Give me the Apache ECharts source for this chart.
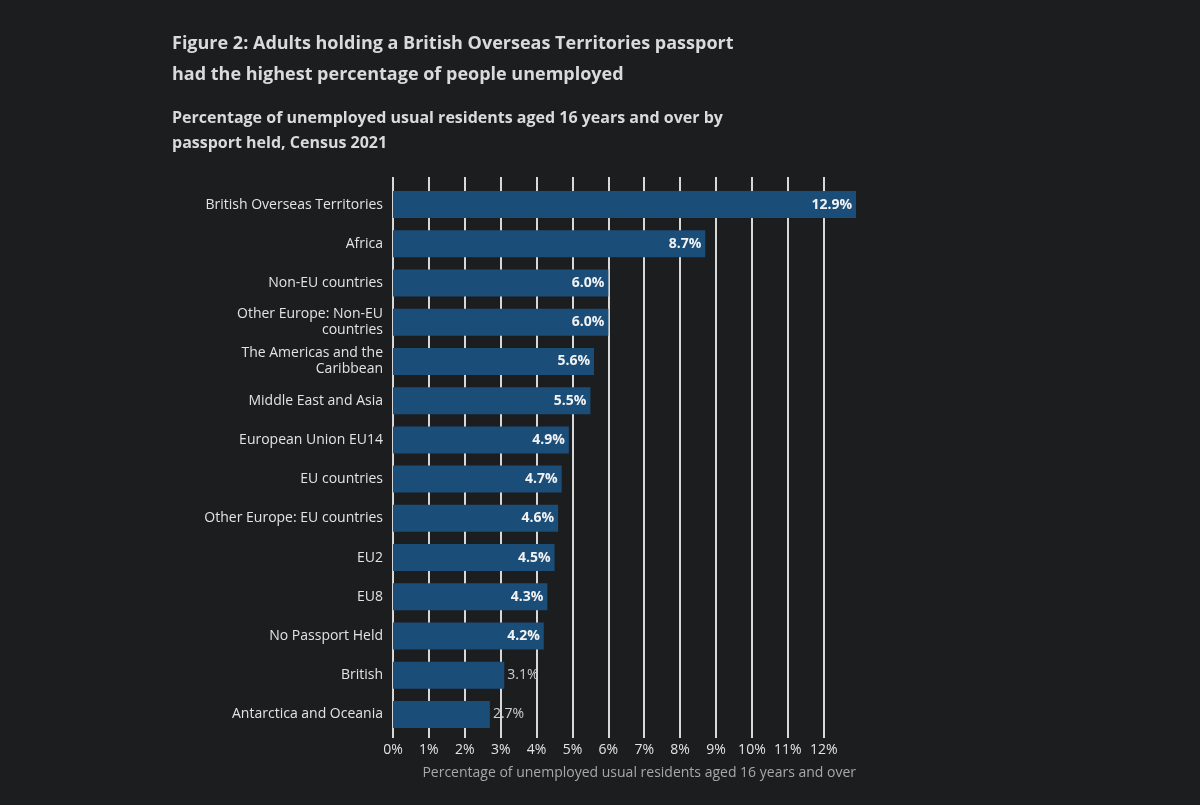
<!DOCTYPE html>
<html>
<head>
<meta charset="utf-8">
<script src="https://cdn.jsdelivr.net/npm/echarts@6/dist/echarts.min.js"></script>
<style>
  html, body { margin: 0; padding: 0; background: #1c1d1f; }
  #main { width: 1200px; height: 805px; }
</style>
</head>
<body>
<div id="main"></div>
<script>
// passport held (top to bottom)
var categories = [
    'British Overseas Territories',
    'Africa',
    'Non-EU countries',
    'Other Europe: Non-EU\ncountries',
    'The Americas and the\nCaribbean',
    'Middle East and Asia',
    'European Union EU14',
    'EU countries',
    'Other Europe: EU countries',
    'EU2',
    'EU8',
    'No Passport Held',
    'British',
    'Antarctica and Oceania'
];
// % unemployed
var values = [12.9, 8.7, 6.0, 6.0, 5.6, 5.5, 4.9, 4.7, 4.6, 4.5, 4.3, 4.2, 3.1, 2.7];
var xTicks = [0, 1, 2, 3, 4, 5, 6, 7, 8, 9, 10, 11, 12];

var textColor = '#e3e3e3';
var barColor = '#1b4d79';
var lineCol = '#d8d8d8';
var fontFam = '"Open Sans", "Noto Sans", sans-serif';

// grid line colours, last tick (max) is hidden
var lineColors = xTicks.map(function(){ return lineCol; });
lineColors.push('rgba(0,0,0,0)');

var seriesData = values.map(function(v){
    var inside = v > 4;
    return {
        value: v,
        label: {
            position: inside ? 'insideRight' : 'right',
            distance: inside ? 4 : 3,
            color: inside ? '#f2f2f2' : '#cfcfcf',
            fontWeight: inside ? 'bold' : 'normal'
        }
    };
});

var chart = echarts.init(document.getElementById('main'));
var option = {
    backgroundColor: '#1c1d1f',
    textStyle: { fontFamily: fontFam },
    title: [
        {
            text: 'Figure 2: Adults holding a British Overseas Territories passport\nhad the highest percentage of people unemployed',
            left: 172, top: 28, padding: 0,
            textStyle: { color: '#dadada', fontSize: 18, fontWeight: 'bold', lineHeight: 31, fontFamily: fontFam }
        },
        {
            text: 'Percentage of unemployed usual residents aged 16 years and over by\npassport held, Census 2021',
            left: 172, top: 106, padding: 0,
            textStyle: { color: '#dadada', fontSize: 16, fontWeight: 'bold', lineHeight: 25, fontFamily: fontFam }
        }
    ],
    grid: { left: 393, right: 1200 - 856, top: 185, bottom: 805 - 734, containLabel: false },
    xAxis: [
        {
            type: 'value',
            min: 0,
            max: 12.9,
            interval: 1,
            axisLine: { show: false },
            axisTick: { show: true, customValues: xTicks, length: 4, lineStyle: { color: lineCol, width: 2 } },
            splitLine: { show: true, lineStyle: { color: lineColors, width: 2 } },
            axisLabel: {
                color: textColor, fontSize: 14, margin: 9,
                showMaxLabel: false,
                formatter: function(v){ return (v % 1 === 0) ? v + '%' : ''; }
            },
            name: 'Percentage of unemployed usual residents aged 16 years and over',
            nameLocation: 'end',
            nameGap: 0,
            nameTextStyle: {
                color: '#a8a8a8', fontSize: 14, align: 'right', verticalAlign: 'top',
                padding: [32, 0, 0, 0]
            }
        },
        {
            type: 'value',
            position: 'top',
            min: 0,
            max: 12.9,
            interval: 1,
            axisLine: { show: false },
            axisTick: { show: true, customValues: xTicks, length: 8, lineStyle: { color: lineCol, width: 2 } },
            splitLine: { show: false },
            axisLabel: { show: false }
        }
    ],
    yAxis: {
        type: 'category',
        inverse: true,
        data: categories,
        axisLine: { show: false },
        axisTick: { show: false },
        axisLabel: { color: textColor, fontSize: 14, margin: 10, lineHeight: 16 }
    },
    series: [
        {
            type: 'bar',
            data: seriesData,
            barWidth: 27,
            itemStyle: { color: barColor },
            label: {
                show: true,
                fontSize: 14,
                formatter: function(p){ return p.value.toFixed(1) + '%'; }
            }
        }
    ]
};
chart.setOption(option);
</script>
</body>
</html>
